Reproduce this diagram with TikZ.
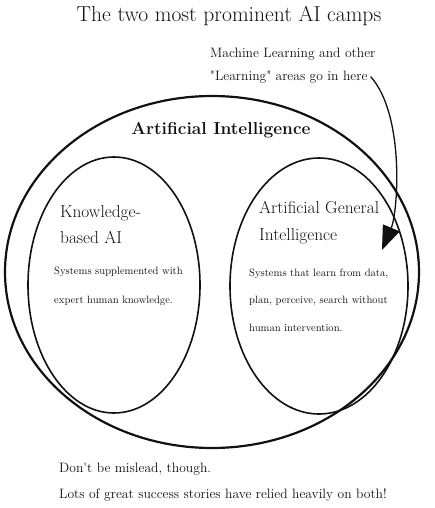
\documentclass[tikz,border=0pt]{standalone}
\usepackage{tikz}
\usetikzlibrary{arrows.meta,positioning,shapes.geometric}
\definecolor{inkblack}{HTML}{111111}
\tikzset{
  camp/.style       = {ellipse, draw=inkblack, line width=1.6pt, inner sep=0pt},
  field/.style      = {camp, line width=2.2pt},
  headline/.style   = {font=\fontsize{21.6}{26}\selectfont, text=inkblack, anchor=base, inner sep=0pt},
  remark/.style     = {font=\fontsize{13.6}{16}\selectfont, text=inkblack, anchor=base west, inner sep=0pt},
  field title/.style = {font=\bfseries\fontsize{17.3}{20}\selectfont, text=inkblack, anchor=base, inner sep=0pt},
  camp title/.style = {font=\fontsize{17.3}{20}\selectfont, text=inkblack, anchor=base west, inner sep=0pt},
  camp text/.style  = {font=\fontsize{10.6}{12}\selectfont, text=inkblack, anchor=base west, inner sep=0pt},
  pointer/.style    = {-{Triangle[length=24pt,width=18pt]}, inkblack, line width=1.3pt},
}

\begin{document}
\begin{tikzpicture}[x=1pt, y=-1pt]
    \useasboundingbox (0,0) rectangle (434,508);
    % the three camps
    \node[field, minimum width=414pt, minimum height=352pt] (ai) at (212,272) {};
    \node[camp, minimum width=172pt, minimum height=256pt] (kbai) at (114,285) {};
    \node[camp, minimum width=178pt, minimum height=256pt] (agi) at (319,286) {};
    % texts
    \node[headline] (title) at (229,22) {The two most prominent AI camps};
    \node[remark] (mlone) at (210,58) {Machine Learning and other};
    \node[remark] (mltwo) at ([yshift=-23pt]mlone.base west) {\textquotedbl Learning\textquotedbl{} areas go in here};
    \node[field title] (aititle) at (221,135) {Artificial Intelligence};
    \node[camp title] (kbone) at (60,217) {Knowledge-};
    \node[camp title] (kbtwo) at ([yshift=-26pt]kbone.base west) {based AI};
    \node[camp text] (kbtxtone) at (54,274) {Systems supplemented with};
    \node[camp text] (kbtxttwo) at ([yshift=-29pt]kbtxtone.base west) {expert human knowledge.};
    \node[camp title] (agione) at (259,213) {Artificial General};
    \node[camp title] (agitwo) at ([yshift=-27pt]agione.base west) {Intelligence};
    \node[camp text] (agitxtone) at (249,276) {Systems that learn from data,};
    \node[camp text] (agitxttwo) at ([yshift=-27.5pt]agitxtone.base west) {plan, perceive, search without};
    \node[camp text] (agitxtthree) at ([yshift=-27.5pt]agitxttwo.base west) {human intervention.};
    \node[remark] (endone) at (59,472) {Don\textquotesingle t be mislead, though.};
    \node[remark] (endtwo) at ([yshift=-26pt]endone.base west) {Lots of great success stories have relied heavily on both!};
    % where learning goes
    \coordinate (tip) at (382,250);
    \draw[pointer] ([xshift=3pt,yshift=1pt]mltwo.east) .. controls (405,115) and (398,212) .. (tip);
\end{tikzpicture}
\end{document}
